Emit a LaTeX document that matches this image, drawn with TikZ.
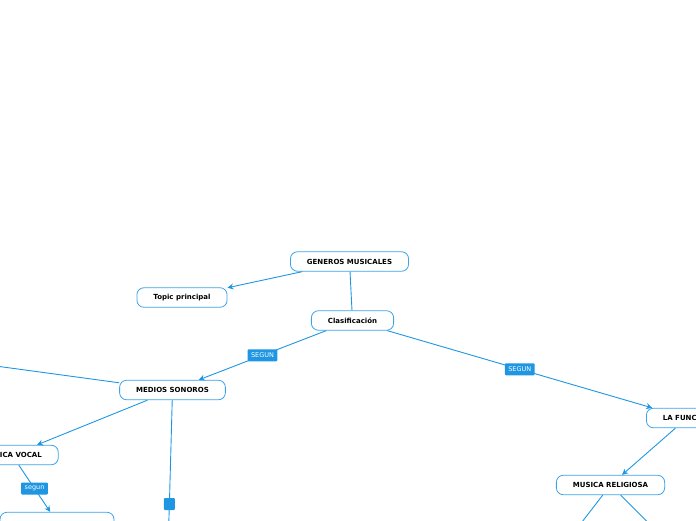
\documentclass[tikz,border=0pt]{standalone}
\usepackage{fontspec}
\setmainfont{DejaVu Sans}
\usetikzlibrary{arrows.meta,positioning}

\definecolor{mapblue}{HTML}{1E96E2}
\definecolor{edgeblue}{HTML}{3BA3EA}

\begin{document}
\begin{tikzpicture}[
    x=1pt, y=-1pt,
    box/.style={draw=edgeblue, line width=0.8pt, rounded corners=7pt, fill=white,
                minimum height=19.5pt, inner xsep=16.5pt, inner ysep=0pt,
                font=\fontsize{7}{8}\selectfont\bfseries},
    link/.style={draw=mapblue, line width=0.9pt},
    arr/.style={link, -{Stealth[length=6pt,width=6pt]}},
    tag/.style={fill=mapblue, text=white, rounded corners=1pt, inner xsep=3.5pt,
                inner ysep=0pt, minimum height=12pt, font=\fontsize{6.5}{7}\selectfont}
]
\useasboundingbox (0,0) rectangle (696,520);
\clip (0,0) rectangle (696,520);

\node[box] (gen) at (349.5,261.5) {GENEROS MUSICALES};
\node[box] (topic) at (182,297.5) {Topic principal};
\node[box] (clas) at (352.5,320.5) {Clasificación};
\node[box] (medios) at (172.5,390) {MEDIOS SONOROS};
\node[box] (func) at (687,418) {LA FUNCION};
\node[box] (vocal) at (12,455) {MUSICA VOCAL};
\node[box, minimum width=114pt] (sub) at (57,522) {};
\node[box] (relig) at (610.5,485) {MUSICA RELIGIOSA};

% ramas que siguen fuera del cuadro
\coordinate (medl) at (-50,359.8);
\coordinate (medd) at (167.6,560);
\coordinate (rell) at (552.7,560);
\coordinate (relr) at (685.5,560);
\node[tag, minimum width=11pt, inner xsep=0pt] (cuad) at (169.4,504) {};

\draw[arr] (gen) -- (topic);
\draw[link] (gen) -- (clas);
\draw[arr] (clas) -- node[tag] {SEGUN} (medios);
\draw[arr] (clas) -- node[tag] {SEGUN} (func);
\draw[link] (medios) -- (medl);
\draw[arr] (medios) -- (vocal);
\draw[arr] (vocal) -- node[tag] {segun} (sub);
\draw[link] (medios) -- (cuad) -- (medd);
\draw[arr] (func) -- (relig);
\draw[link] (relig) -- (rell);
\draw[link] (relig) -- (relr);
\end{tikzpicture}
\end{document}
